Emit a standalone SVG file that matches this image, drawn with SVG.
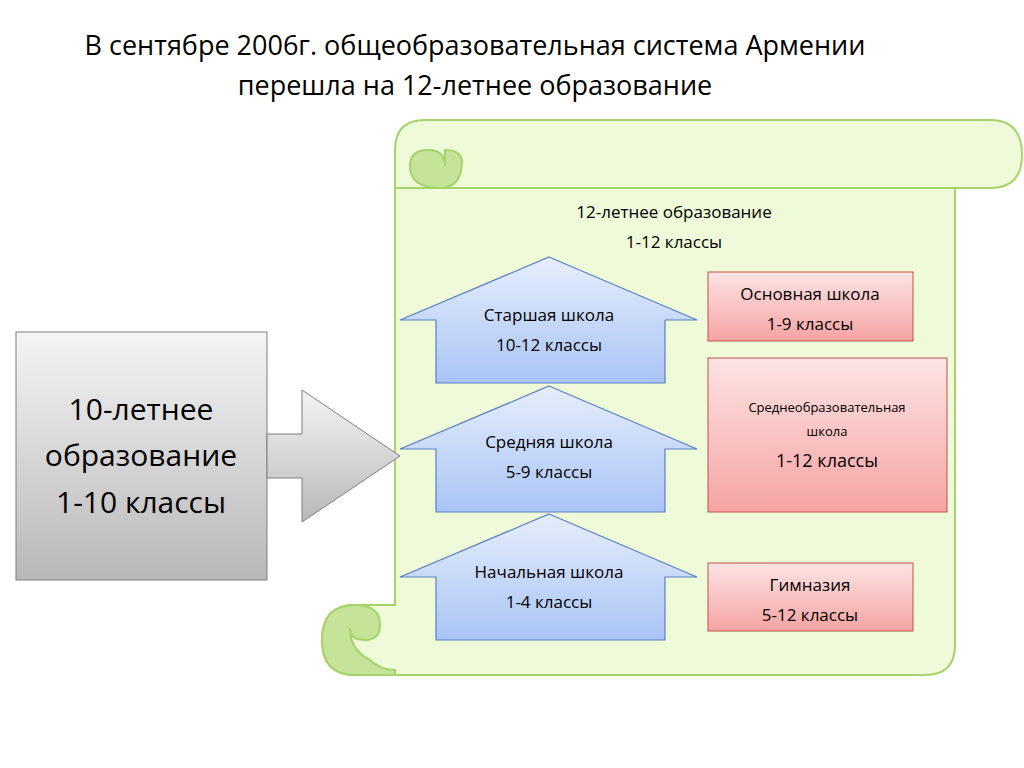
<svg xmlns="http://www.w3.org/2000/svg" width="1024" height="768" viewBox="0 0 1024 768">
<defs>
<linearGradient id="blue" x1="0" y1="0" x2="0" y2="1"><stop offset="0" stop-color="#e6eefc"/><stop offset="1" stop-color="#a9c4f5"/></linearGradient>
<linearGradient id="pink" x1="0" y1="0" x2="0" y2="1"><stop offset="0" stop-color="#fde4e4"/><stop offset="1" stop-color="#f6a3a3"/></linearGradient>
<linearGradient id="gray" x1="0" y1="0" x2="0" y2="1"><stop offset="0" stop-color="#f4f4f4"/><stop offset="1" stop-color="#b8b8b8"/></linearGradient>
<style>
text{font-family:"Open Sans","Liberation Sans",sans-serif;fill:#000;text-anchor:middle}
.h{fill:url(#blue);stroke:#5b7fc4;stroke-width:1.2}
.p{fill:url(#pink);stroke:#c0504d;stroke-width:1}
.s{fill:#eefad8;stroke:#a6d36a;stroke-width:2}
.r{fill:#c6e39a;stroke:#a6d36a;stroke-width:2}
</style>
</defs>
<text x="475" y="55" font-size="27">В сентябре 2006г. общеобразовательная система Армении</text>
<text x="475" y="95" font-size="27">перешла на 12-летнее образование</text>
<g id="scroll">
<path class="s" d="M395,150 Q395,120 425,120 L990,120 Q1022,120 1022,155 Q1022,188 990,188 L955,188 L955,645 Q955,675 925,675 L355,675 Q322,675 322,640 Q322,605 355,605 L395,605 Z"/>
<path class="r" d="M440,188 Q410,188 410,166 Q410,150 428,150 Q445,150 445,166 L445,150 Q460,150 462,160 Q462,188 440,188 Z"/>
<path class="s" d="M395,188 L990,188" fill="none"/>
<path class="r" d="M355,675 Q322,675 322,640 Q322,605 355,605 Q380,605 380,625 Q380,640 365,640 Q350,640 350,628 Q350,650 370,660 Q380,670 395,670 L395,675 Z"/>
</g>
<text x="674" y="218" font-size="17">12-летнее образование</text>
<text x="674" y="248" font-size="17">1-12 классы</text>
<g id="left"><rect x="16" y="332" width="251" height="248" fill="url(#gray)" stroke="#7f7f7f"/>
<text x="141" y="420" font-size="30">10-летнее</text><text x="141" y="466" font-size="30">образование</text><text x="141" y="513" font-size="30">1-10 классы</text></g>
<g id="arrow"><path d="M267,434 L302,434 L302,390 L400,456 L302,522 L302,478 L267,478 Z" fill="url(#gray)" stroke="#7f7f7f"/></g>
<g id="h1"><path class="h" d="M549,257 L697,320 L665,320 L665,383 L436,383 L436,320 L400,320 Z"/><text x="549" y="321" font-size="17">Старшая школа</text><text x="549" y="351" font-size="17">10-12 классы</text></g>
<g id="h2"><path class="h" d="M549,386 L697,449 L665,449 L665,512 L436,512 L436,449 L400,449 Z"/><text x="549" y="448" font-size="17">Средняя школа</text><text x="549" y="478" font-size="17">5-9 классы</text></g>
<g id="h3"><path class="h" d="M549,514 L697,577 L665,577 L665,640 L436,640 L436,577 L400,577 Z"/><text x="549" y="578" font-size="17">Начальная школа</text><text x="549" y="608" font-size="17">1-4 классы</text></g>
<g id="p1"><rect class="p" x="708" y="272" width="205" height="69"/><text x="810" y="300" font-size="17">Основная школа</text><text x="810" y="330" font-size="17">1-9 классы</text></g>
<g id="p2"><rect class="p" x="708" y="358" width="239" height="154"/><text x="827" y="412" font-size="13">Среднеобразовательная</text><text x="827" y="436" font-size="13">школа</text><text x="827" y="467" font-size="18">1-12 классы</text></g>
<g id="p3"><rect class="p" x="708" y="563" width="205" height="68"/><text x="810" y="591" font-size="17">Гимназия</text><text x="810" y="621" font-size="17">5-12 классы</text></g>
<g id="connectors"/>
</svg>
